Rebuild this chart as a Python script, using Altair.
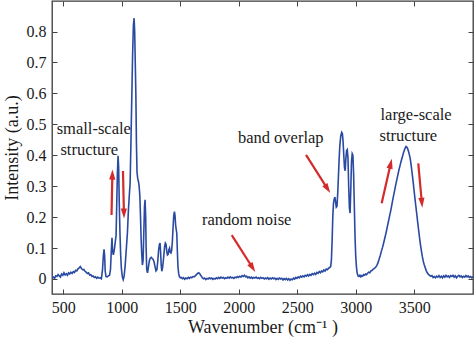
import altair as alt
import pandas as pd
import math

# ---- spectrum: (wavenumber, intensity) ----
seg_low = [
    (403, 0.003), (415, 0.006), (425, 0.002), (435, 0.010), (445, 0.008), (455, 0.014), (465, 0.010),
    (475, 0.006), (485, 0.016), (495, 0.012), (505, 0.020), (515, 0.013), (525, 0.017), (535, 0.012),
    (545, 0.020), (555, 0.016), (565, 0.022), (575, 0.018), (585, 0.024), (595, 0.021), (605, 0.028),
    (615, 0.026), (625, 0.033), (635, 0.036), (645, 0.040), (655, 0.034), (665, 0.030), (675, 0.031),
    (685, 0.025), (695, 0.022), (705, 0.018), (715, 0.020), (725, 0.013), (735, 0.014), (745, 0.008),
    (755, 0.010), (765, 0.005), (775, 0.007), (785, 0.002), (795, 0.006), (805, 0.003), (815, 0.004),
    (825, 0.001),
]
seg_fingerprint = [
    (835, 0.030), (842, 0.075), (848, 0.096), (853, 0.075), (858, 0.025), (865, 0.008), (875, 0.007),
    (885, 0.010), (895, 0.012), (903, 0.030), (910, 0.090), (916, 0.133), (921, 0.090), (928, 0.078),
    (936, 0.095), (944, 0.120), (951, 0.140), (956, 0.230), (962, 0.340), (968, 0.398), (973, 0.360),
    (978, 0.250), (984, 0.150), (990, 0.080), (996, 0.035), (1005, 0.006), (1012, -0.002), (1020, 0.010),
    (1028, 0.040), (1038, 0.095), (1048, 0.150), (1056, 0.220), (1064, 0.270), (1071, 0.310),
    (1078, 0.440), (1085, 0.580), (1092, 0.720), (1099, 0.820), (1105, 0.843), (1110, 0.800),
    (1115, 0.700), (1120, 0.600), (1125, 0.440), (1130, 0.345), (1136, 0.325), (1142, 0.316),
    (1148, 0.300), (1154, 0.270), (1160, 0.200), (1165, 0.130), (1170, 0.084), (1176, 0.045),
    (1182, 0.060), (1188, 0.150), (1194, 0.235), (1199, 0.256), (1204, 0.200), (1208, 0.100),
    (1213, 0.030), (1220, 0.020), (1228, 0.040), (1236, 0.060), (1244, 0.068), (1252, 0.070),
    (1260, 0.066), (1268, 0.063), (1276, 0.055), (1284, 0.040), (1292, 0.026), (1300, 0.030),
    (1308, 0.060), (1315, 0.095), (1322, 0.112), (1327, 0.116), (1332, 0.085), (1337, 0.045),
    (1342, 0.025), (1348, 0.035), (1354, 0.055), (1360, 0.080), (1366, 0.105), (1372, 0.116),
    (1378, 0.112), (1384, 0.090), (1390, 0.078), (1396, 0.080), (1402, 0.095), (1408, 0.100),
    (1414, 0.086), (1420, 0.084), (1426, 0.092), (1432, 0.120), (1438, 0.165), (1444, 0.205),
    (1450, 0.218), (1455, 0.205), (1460, 0.175), (1465, 0.160), (1470, 0.148), (1475, 0.090),
    (1480, 0.040), (1486, 0.018), (1492, 0.008),
]
seg_flat = [
    (1500, 0.004), (1508, 0.005), (1518, 0.001), (1528, 0.004), (1538, -0.001), (1548, 0.003),
    (1558, 0.001), (1568, 0.005), (1578, 0.002), (1588, 0.006), (1598, 0.004), (1608, 0.008),
    (1618, 0.007), (1628, 0.010), (1638, 0.014), (1648, 0.018), (1658, 0.020), (1668, 0.016),
    (1678, 0.010), (1688, 0.004), (1698, 0.001), (1708, 0.003), (1718, -0.002), (1728, 0.002),
    (1738, 0.000), (1748, 0.004), (1758, 0.001), (1768, 0.003), (1778, -0.001), (1788, 0.002),
    (1798, 0.000), (1808, 0.004), (1818, 0.001), (1828, 0.005), (1838, 0.002), (1848, 0.006),
    (1858, 0.003), (1868, 0.005), (1878, 0.001), (1888, 0.004), (1898, 0.002), (1908, 0.006),
    (1918, 0.003), (1928, 0.007), (1938, 0.004), (1948, 0.005), (1958, 0.002), (1968, 0.006),
    (1978, 0.004), (1988, 0.008), (1998, 0.005), (2008, 0.009), (2018, 0.006), (2028, 0.011),
    (2038, 0.008), (2048, 0.012), (2058, 0.007), (2068, 0.009), (2078, 0.004), (2088, 0.007),
    (2098, 0.003), (2108, 0.006), (2118, 0.002), (2128, 0.005), (2138, 0.003), (2148, 0.006),
    (2158, 0.002), (2168, 0.004), (2178, 0.001), (2188, 0.005), (2198, 0.002), (2208, 0.004),
    (2218, 0.000), (2228, 0.003), (2238, 0.001), (2248, 0.004), (2258, -0.001), (2268, 0.003),
    (2278, 0.000), (2288, 0.004), (2298, 0.001), (2308, 0.003), (2318, -0.002), (2328, 0.002),
    (2338, -0.001), (2348, 0.003), (2358, 0.000), (2368, 0.002), (2378, -0.003), (2388, 0.001),
    (2398, -0.002), (2408, 0.002), (2418, -0.003), (2428, 0.001), (2438, -0.004), (2448, 0.000),
    (2458, -0.002), (2468, 0.003), (2478, 0.000), (2488, 0.005), (2498, 0.002), (2508, 0.007),
    (2518, 0.004), (2528, 0.009), (2538, 0.006), (2548, 0.010), (2558, 0.007), (2568, 0.012),
    (2578, 0.009), (2588, 0.014), (2598, 0.010), (2608, 0.015), (2618, 0.012), (2628, 0.017),
    (2638, 0.014), (2648, 0.019), (2658, 0.015), (2668, 0.021), (2678, 0.018), (2688, 0.024),
    (2698, 0.020), (2708, 0.026), (2718, 0.023), (2728, 0.029), (2738, 0.026), (2748, 0.032),
    (2758, 0.030), (2768, 0.035), (2778, 0.037),
]
seg_ch_band = [
    (2786, 0.040), (2792, 0.060), (2798, 0.120), (2804, 0.200), (2810, 0.245), (2816, 0.258),
    (2822, 0.265), (2828, 0.250), (2834, 0.232), (2840, 0.235), (2846, 0.275), (2852, 0.330),
    (2858, 0.385), (2864, 0.430), (2872, 0.462), (2880, 0.474), (2886, 0.470), (2892, 0.445),
    (2898, 0.400), (2904, 0.360), (2910, 0.350), (2916, 0.390), (2922, 0.415), (2928, 0.418),
    (2934, 0.390), (2940, 0.300), (2946, 0.230), (2952, 0.213), (2958, 0.290), (2964, 0.380),
    (2970, 0.405), (2976, 0.400), (2982, 0.340), (2988, 0.240), (2994, 0.140), (3000, 0.075),
    (3006, 0.040), (3012, 0.020), (3020, 0.010), (3028, 0.008), (3036, 0.012), (3044, 0.007),
    (3052, 0.011), (3060, 0.009), (3068, 0.014), (3076, 0.012), (3084, 0.016), (3092, 0.014),
]
seg_oh_band = [
    (3100, 0.018), (3110, 0.022), (3120, 0.020), (3130, 0.026), (3140, 0.028), (3150, 0.032),
    (3160, 0.034), (3170, 0.038), (3180, 0.043), (3190, 0.052), (3200, 0.064), (3210, 0.076),
    (3220, 0.090), (3230, 0.103), (3240, 0.118), (3250, 0.134), (3260, 0.150), (3270, 0.168),
    (3280, 0.186), (3290, 0.204), (3300, 0.222), (3310, 0.242), (3320, 0.262), (3330, 0.281),
    (3340, 0.300), (3350, 0.318), (3360, 0.336), (3370, 0.353), (3380, 0.368), (3390, 0.383),
    (3400, 0.396), (3410, 0.410), (3420, 0.421), (3430, 0.428), (3440, 0.425), (3450, 0.415),
    (3458, 0.403), (3466, 0.390), (3474, 0.368), (3482, 0.343), (3490, 0.318), (3498, 0.290),
    (3506, 0.262), (3514, 0.236), (3522, 0.210), (3530, 0.184), (3538, 0.158), (3546, 0.133),
    (3554, 0.110), (3562, 0.090), (3570, 0.072), (3578, 0.057), (3586, 0.046), (3594, 0.037),
    (3602, 0.028), (3612, 0.020), (3622, 0.015), (3632, 0.012), (3642, 0.009),
]
seg_tail = [
    (3652, 0.011), (3662, 0.005), (3672, 0.008), (3682, 0.004), (3692, 0.009), (3702, 0.006),
    (3712, 0.011), (3722, 0.005), (3732, 0.009), (3742, 0.004), (3752, 0.010), (3762, 0.006),
    (3772, 0.012), (3782, 0.007), (3792, 0.010), (3802, 0.005), (3812, 0.011), (3822, 0.008),
    (3832, 0.012), (3842, 0.006), (3852, 0.010), (3862, 0.004), (3872, 0.009), (3882, 0.012),
    (3892, 0.007), (3902, 0.010), (3912, 0.005), (3922, 0.009), (3932, 0.006), (3942, 0.011),
    (3952, 0.007), (3962, 0.010), (3972, 0.005), (3982, 0.008), (3992, 0.004), (4003, 0.008),
]

# ---- annotations ----
label_text = ["small-scale", "structure", "random noise", "band overlap", "large-scale", "structure"]
label_x = [760, 722, 2068, 2359, 3516, 3450]
label_y = [0.484, 0.417, 0.191, 0.455, 0.530, 0.462]

arrow_x0 = [912, 1010, 1940, 2575, 3222, 3535]
arrow_y0 = [0.207, 0.349, 0.142, 0.401, 0.245, 0.374]
arrow_x1 = [920, 1019, 2139, 2780, 3308, 3569]
arrow_y1 = [0.352, 0.197, 0.024, 0.279, 0.387, 0.232]

x_ticks = [500, 1000, 1500, 2000, 2500, 3000, 3500]
y_ticks = [0, 0.1, 0.2, 0.3, 0.4, 0.5, 0.6, 0.7, 0.8]

XDOM = [403, 4003]
YDOM = [-0.0485, 0.8986]
W, H = 421, 293

points = seg_low + seg_fingerprint + seg_flat + seg_ch_band + seg_oh_band + seg_tail
spec = pd.DataFrame(points, columns=["wn", "I"])
labels = pd.DataFrame({"t": label_text, "x": label_x, "y": label_y})

# arrow heads: direction computed in pixel space
rows = []
for x0, y0, x1, y1 in zip(arrow_x0, arrow_y0, arrow_x1, arrow_y1):
    dx = (x1 - x0) / (XDOM[1] - XDOM[0]) * W
    dy = -(y1 - y0) / (YDOM[1] - YDOM[0]) * H
    L = math.hypot(dx, dy)
    ang = math.degrees(math.atan2(dx, -dy)) % 360
    hx = x1 - (x1 - x0) * (4.5 / L)
    hy = y1 - (y1 - y0) * (4.5 / L)
    sx = x1 - (x1 - x0) * (6 / L)
    sy = y1 - (y1 - y0) * (6 / L)
    rows.append({"x0": x0, "y0": y0, "sx": sx, "sy": sy, "hx": hx, "hy": hy, "ang": ang})
arrows = pd.DataFrame(rows)

FONT = "Liberation Serif"
TXT = "#1a1a1a"
TICK = "#444444"
RED = "#d42a2a"

xs = alt.Scale(domain=XDOM, nice=False, zero=False)
ys = alt.Scale(domain=YDOM, nice=False, zero=False)

x_axis = alt.Axis(orient="bottom", values=x_ticks, offset=-5, tickSize=5, tickColor=TICK, tickWidth=1,
                  domain=False, grid=False, labelFont=FONT, labelFontSize=16, labelColor=TXT,
                  labelPadding=5, format="d", labelFlush=False, title="Wavenumber (cm⁻¹ )", titleFont=FONT,
                  titleFontSize=18, titleFontWeight="normal", titleColor=TXT, titlePadding=3)
y_axis = alt.Axis(orient="left", values=y_ticks, offset=-5, tickSize=5, tickColor=TICK, tickWidth=1,
                  domain=False, grid=False, labelFont=FONT, labelFontSize=16, labelColor=TXT,
                  labelPadding=6, format=".1~f", labelFlush=False, title="Intensity (a.u.)", titleFont=FONT,
                  titleFontSize=18, titleFontWeight="normal", titleColor=TXT, titlePadding=5)
x_top = alt.Axis(orient="top", values=x_ticks, offset=-5, tickSize=5, tickColor=TICK, domain=False,
                 grid=False, labels=False, title=None)
y_right = alt.Axis(orient="right", values=y_ticks, offset=-5, tickSize=5, tickColor=TICK, domain=False,
                   grid=False, labels=False, title=None)

line = alt.Chart(spec).mark_line(color="#2a4aa2", strokeWidth=1.6, clip=True).encode(
    x=alt.X("wn:Q", scale=xs, axis=x_axis),
    y=alt.Y("I:Q", scale=ys, axis=y_axis),
)

shafts = alt.Chart(arrows).mark_rule(color=RED, strokeWidth=2.2).encode(
    x=alt.X("x0:Q", scale=xs, axis=x_top),
    y=alt.Y("y0:Q", scale=ys, axis=y_right),
    x2="sx:Q", y2="sy:Q",
)

heads = alt.Chart(arrows).mark_point(shape="M0,-1L0.62,1L-0.62,1Z", filled=True, color=RED,
                                     opacity=1, size=100).encode(
    x=alt.X("hx:Q", scale=xs, axis=None),
    y=alt.Y("hy:Q", scale=ys, axis=None),
    angle=alt.Angle("ang:Q", scale=None),
)

texts = alt.Chart(labels).mark_text(font=FONT, fontSize=16.5, color=TXT, align="center",
                                    baseline="middle").encode(
    x=alt.X("x:Q", scale=xs, axis=None),
    y=alt.Y("y:Q", scale=ys, axis=None),
    text="t:N",
)

chart = alt.layer(line, shafts, heads, texts).resolve_scale(x="independent", y="independent").properties(
    width=W, height=H,
    autosize=alt.AutoSizeParams(type="none"),
    padding={"left": 52, "top": 1, "right": 1, "bottom": 46},
    background="white",
).configure_view(stroke="#3a3a3a", strokeWidth=1.3)

chart.save("out.html", embed_options={"renderer": "svg", "actions": False})
